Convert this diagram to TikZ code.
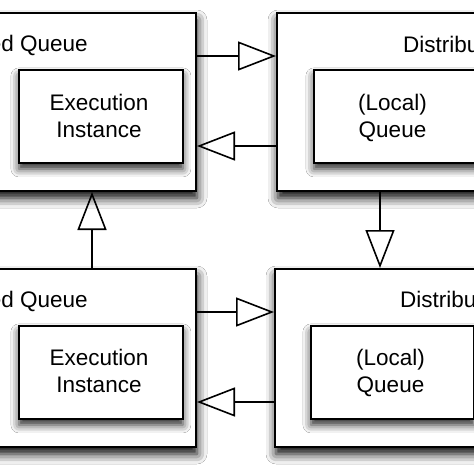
\documentclass[tikz,border=0pt]{standalone}
\usepackage{fontspec}
\setmainfont{Liberation Sans}
\usetikzlibrary{arrows.meta,shadows.blur}
\tikzset{
  outerbox/.style={draw=black, line width=2pt, fill=white, inner sep=0pt,
    blur shadow={shadow xshift=1pt, shadow yshift=-7pt, shadow blur radius=10pt, shadow opacity=100}},
  innerbox/.style={draw=black, line width=1.8pt, fill=white, inner sep=0pt,
    blur shadow={shadow xshift=0pt, shadow yshift=-6pt, shadow blur radius=8pt, shadow opacity=85}},
  lbl/.style={inner sep=0pt, font=\fontsize{22.5}{27}\selectfont},
  twoline/.style={inner sep=0pt, align=center, font=\fontsize{22.5}{27}\selectfont},
  conn/.style={line width=1.6pt, -{Triangle[open, length=38pt, width=29pt, line width=1.6pt]}},
}
\begin{document}
\begin{tikzpicture}[x=1pt,y=-1pt]
\useasboundingbox (0,0) rectangle (474,474);
\clip (0,0) rectangle (474,474);
\fill[white] (0,0) rectangle (474,474);
% outer boxes
\node[outerbox, minimum width=240pt, minimum height=178pt, anchor=north east] (TL) at (197,12) {};
\node[outerbox, minimum width=240pt, minimum height=178pt, anchor=north west] (TR) at (276,12) {};
\node[outerbox, minimum width=240pt, minimum height=178pt, anchor=north east] (BL) at (197,268) {};
\node[outerbox, minimum width=240pt, minimum height=178pt, anchor=north west] (BR) at (274,268) {};
% titles
\node[lbl, anchor=base east] (TLt) at (88,51) {Distributed Queue};
\node[lbl, anchor=base west] (TRt) at (403,52) {Distributed Queue};
\node[lbl, anchor=base east] (BLt) at (88,307) {Distributed Queue};
\node[lbl, anchor=base west] (BRt) at (400,307) {Distributed Queue};
% inner boxes
\node[innerbox, minimum width=164pt, minimum height=93pt, anchor=north west] (TLi) at (18,69) {};
\node[innerbox, minimum width=170pt, minimum height=93pt, anchor=north west] (TRi) at (313,69) {};
\node[innerbox, minimum width=164pt, minimum height=93pt, anchor=north west] (BLi) at (18,325) {};
\node[innerbox, minimum width=163pt, minimum height=93pt, anchor=north west] (BRi) at (310,325) {};
% inner texts (base = baseline of last line)
\node[twoline, anchor=base] (TLx) at (99,137) {Execution\\Instance};
\node[twoline, anchor=base] (TRx) at (392.5,137) {(Local)\\Queue};
\node[twoline, anchor=base] (BLx) at (99,392) {Execution\\Instance};
\node[twoline, anchor=base] (BRx) at (390.5,392) {(Local)\\Queue};
% connectors
\draw[conn] (TL.east |- 0,56) -- (TR.west |- 0,56);
\draw[conn] (TR.west |- 0,146) -- (TL.east |- 0,146);
\draw[conn] (BL.east |- 0,312) -- (BR.west |- 0,312);
\draw[conn] (BR.west |- 0,402) -- (BL.east |- 0,402);
\draw[conn] (BL.north -| 92,0) -- (TL.south -| 92,0);
\draw[conn] (TR.south -| 380,0) -- (BR.north -| 380,0);
\end{tikzpicture}
\end{document}
